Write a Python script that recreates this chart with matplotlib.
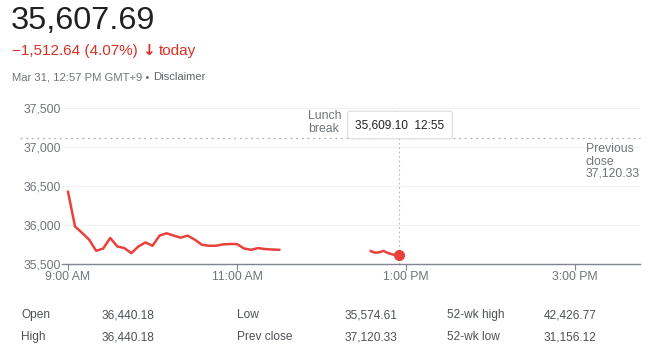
import numpy as np
import matplotlib.pyplot as plt

# intraday quotes, time in hours (morning every 5 min, afternoon after the lunch break)
am_times = np.arange(31) * 5 / 60.0 + 9.0
am_values = [36426, 35981, 35899, 35812, 35669, 35699, 35834, 35725, 35704, 35639,
             35725, 35777, 35734, 35864, 35894, 35864, 35838, 35864, 35812, 35747,
             35734, 35734, 35751, 35756, 35756, 35699, 35682, 35704, 35691, 35686, 35682]
pm_times = np.array([35, 38, 41, 44, 47, 51, 55]) / 60.0 + 12.0
pm_values = [35665, 35645, 35650, 35668, 35642, 35620, 35609.10]

prev_close = 37120.33
y_ticks = [35500, 36000, 36500, 37000, 37500]
x_ticks = [9, 11, 13, 15]
x_labels = ['9:00 AM', '11:00 AM', '1:00 PM', '3:00 PM']

stat_names = [['Open', 'High'], ['Low', 'Prev close'], ['52-wk high', '52-wk low']]
stat_values = [['36,440.18', '36,440.18'], ['35,574.61', '37,120.33'], ['42,426.77', '31,156.12']]

W, H = 670, 361
red = '#e8423a'
grey = '#70757a'
font = ['Liberation Sans', 'DejaVu Sans']
plt.rcParams['font.family'] = font

fig = plt.figure(figsize=(W / 100, H / 100), dpi=100)
fig.patch.set_facecolor('white')
renderer = fig.canvas.get_renderer()

def px(x, y):
    return x / W, 1 - y / H

def chain(x, y, parts, size):
    # put pieces of text one after another on the same baseline
    for s, col, gap, kw in parts:
        t = fig.text(*px(x, y), s, fontsize=size, color=col, va='baseline', **kw)
        x = t.get_window_extent(renderer).x1 + gap

# header
fig.text(*px(11, 29), '35,607.69', fontsize=23.4, color='#202124', va='baseline')
chain(12, 55, [('\u22121,512.64 (4.07%)', '#d93025', 4, {}),
               ('\u2193', '#d93025', 4, {'fontweight': 'bold', 'family': ['DejaVu Sans']}),
               ('today', '#d93025', 0, {})], 11)
chain(12, 80, [('Mar 31, 12:57 PM GMT+9 \u2022', grey, 4, {}),
               ('Disclaimer', '#5f6368', 0, {})], 8.1)

ax = fig.add_axes([62 / W, (H - 264) / H, 578 / W, 156 / H])
ax.set_xlim(9 - 6 / 84.5, 9 + 578 / 84.5 - 6 / 84.5)
ax.set_ylim(35500, 37500)

for v in y_ticks[1:]:
    ax.axhline(v, color='#f1f1f1', lw=0.8, zorder=0)
ax.axhline(prev_close, xmin=-42 / 578, xmax=1, color='#b0b0b0', lw=0.9,
           ls=(0, (1.5, 3)), clip_on=False, zorder=1)
ax.axvline(12 + 55 / 60, color='#b8b8b8', lw=0.8, ls=(0, (1.5, 2.5)), zorder=1)

ax.plot(am_times, am_values, color=red, lw=1.8, solid_joinstyle='round', zorder=3)
ax.plot(pm_times, pm_values, color=red, lw=1.8, solid_joinstyle='round', zorder=3)
ax.plot(pm_times[-1], pm_values[-1], 'o', color=red, ms=7, zorder=4)

for s in ['top', 'right', 'left']:
    ax.spines[s].set_visible(False)
ax.spines['bottom'].set_color('#80868b')
ax.spines['bottom'].set_linewidth(1.0)
ax.set_yticks(y_ticks)
ax.set_yticklabels(['{:,}'.format(v) for v in y_ticks])
ax.tick_params(axis='y', length=0, pad=1, labelsize=8.8, labelcolor=grey)
ax.set_xticks(x_ticks)
ax.set_xticklabels(x_labels)
ax.tick_params(axis='x', length=4, width=0.8, color='#80868b', pad=1,
               labelsize=8.8, labelcolor=grey)

# annotations
fig.text(*px(308, 132), 'Lunch\nbreak', fontsize=8.8, color=grey, va='baseline',
         linespacing=1.1)
fig.text(*px(586, 177), 'Previous\nclose\n37,120.33', fontsize=8.8, color=grey,
         va='baseline', linespacing=1.05)
fig.text(*px(400, 125), '35,609.10  12:55', fontsize=8.6, color='#202124',
         ha='center', va='center',
         bbox=dict(boxstyle='round,pad=0.65,rounding_size=0.2', fc='white',
                   ec='#dadce0', lw=0.8))

# stats table
col_x = [(21, 102), (237, 345), (447, 544)]
row_y = [318, 340]
for (lx, vx), names, vals in zip(col_x, stat_names, stat_values):
    for yy, n, v in zip(row_y, names, vals):
        fig.text(*px(lx, yy), n, fontsize=8.6, color='#4d5156', va='baseline')
        fig.text(*px(vx, yy), v, fontsize=8.6, color='#4d5156', va='baseline')

fig.savefig('out.png', dpi=100)
